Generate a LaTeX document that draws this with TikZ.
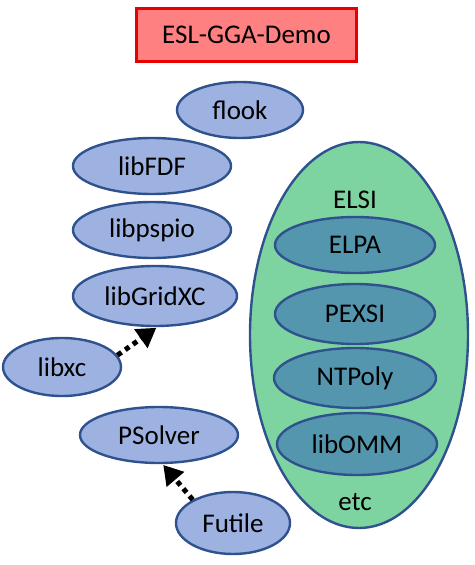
\documentclass[tikz,border=0pt]{standalone}
\usepackage{fontspec}
\setmainfont{Carlito}
\usetikzlibrary{shapes.geometric,arrows.meta}
\definecolor{libfill}{RGB}{157,178,224}
\definecolor{libdraw}{RGB}{47,82,143}
\definecolor{elsifill}{RGB}{125,212,160}
\definecolor{innerfill}{RGB}{84,150,174}
\definecolor{titlefill}{RGB}{255,128,128}
\definecolor{titledraw}{RGB}{232,0,0}
\tikzset{
  lib/.style={ellipse, draw=libdraw, fill=libfill, line width=2.4pt, inner sep=0pt, font=\fontsize{27}{31}\selectfont},
  inner/.style={ellipse, draw=libdraw, fill=innerfill, line width=2.4pt, inner sep=0pt, font=\fontsize{27}{31}\selectfont},
  lbl/.style={inner sep=0pt, font=\fontsize{27}{31}\selectfont},
  dep/.style={line width=5pt, dash pattern=on 5pt off 4.5pt, -{Triangle[length=19pt,width=22pt]}, shorten >=1pt}
}
\begin{document}
\begin{tikzpicture}[x=1pt,y=-1pt]
\useasboundingbox (0,0) rectangle (474,565);
\node[draw=titledraw, fill=titlefill, line width=2.6pt, minimum width=220pt, minimum height=53pt, inner sep=0pt, font=\fontsize{27}{31}\selectfont] (title) at (246.5,35) {ESL-GGA-Demo};
\node[lib, minimum width=126pt, minimum height=56pt] (flook) at (240,110) {flook};
\node[lib, minimum width=158pt, minimum height=56pt] (libFDF) at (152,166) {libFDF};
\node[lib, minimum width=158pt, minimum height=56pt] (libpspio) at (152,230) {libpspio};
\node[lib, minimum width=164pt, minimum height=60pt] (libGridXC) at (155,296) {libGridXC};
\node[lib, minimum width=118pt, minimum height=58pt] (libxc) at (62,367) {libxc};
\node[lib, minimum width=158pt, minimum height=56pt] (PSolver) at (159,435) {PSolver};
\node[lib, minimum width=114pt, minimum height=62pt] (Futile) at (233,523) {Futile};
\node[ellipse, draw=libdraw, fill=elsifill, line width=2.4pt, inner sep=0pt, minimum width=218pt, minimum height=386pt] (ELSI) at (359,335) {};
\node[lbl] (elsilabel) at (355,200) {ELSI};
\node[inner, minimum width=160pt, minimum height=56pt] (ELPA) at (355,245) {ELPA};
\node[inner, minimum width=160pt, minimum height=60pt] (PEXSI) at (355,314) {PEXSI};
\node[inner, minimum width=162pt, minimum height=60pt] (NTPoly) at (355,378) {NTPoly};
\node[inner, minimum width=160pt, minimum height=62pt] (libOMM) at (357,444) {libOMM};
\node[lbl] (etc) at (355,502) {etc};
\draw[dep] (libxc.12) -- (libGridXC.-86);
\draw[dep] (Futile.150) -- (PSolver.-83);
\end{tikzpicture}
\end{document}
